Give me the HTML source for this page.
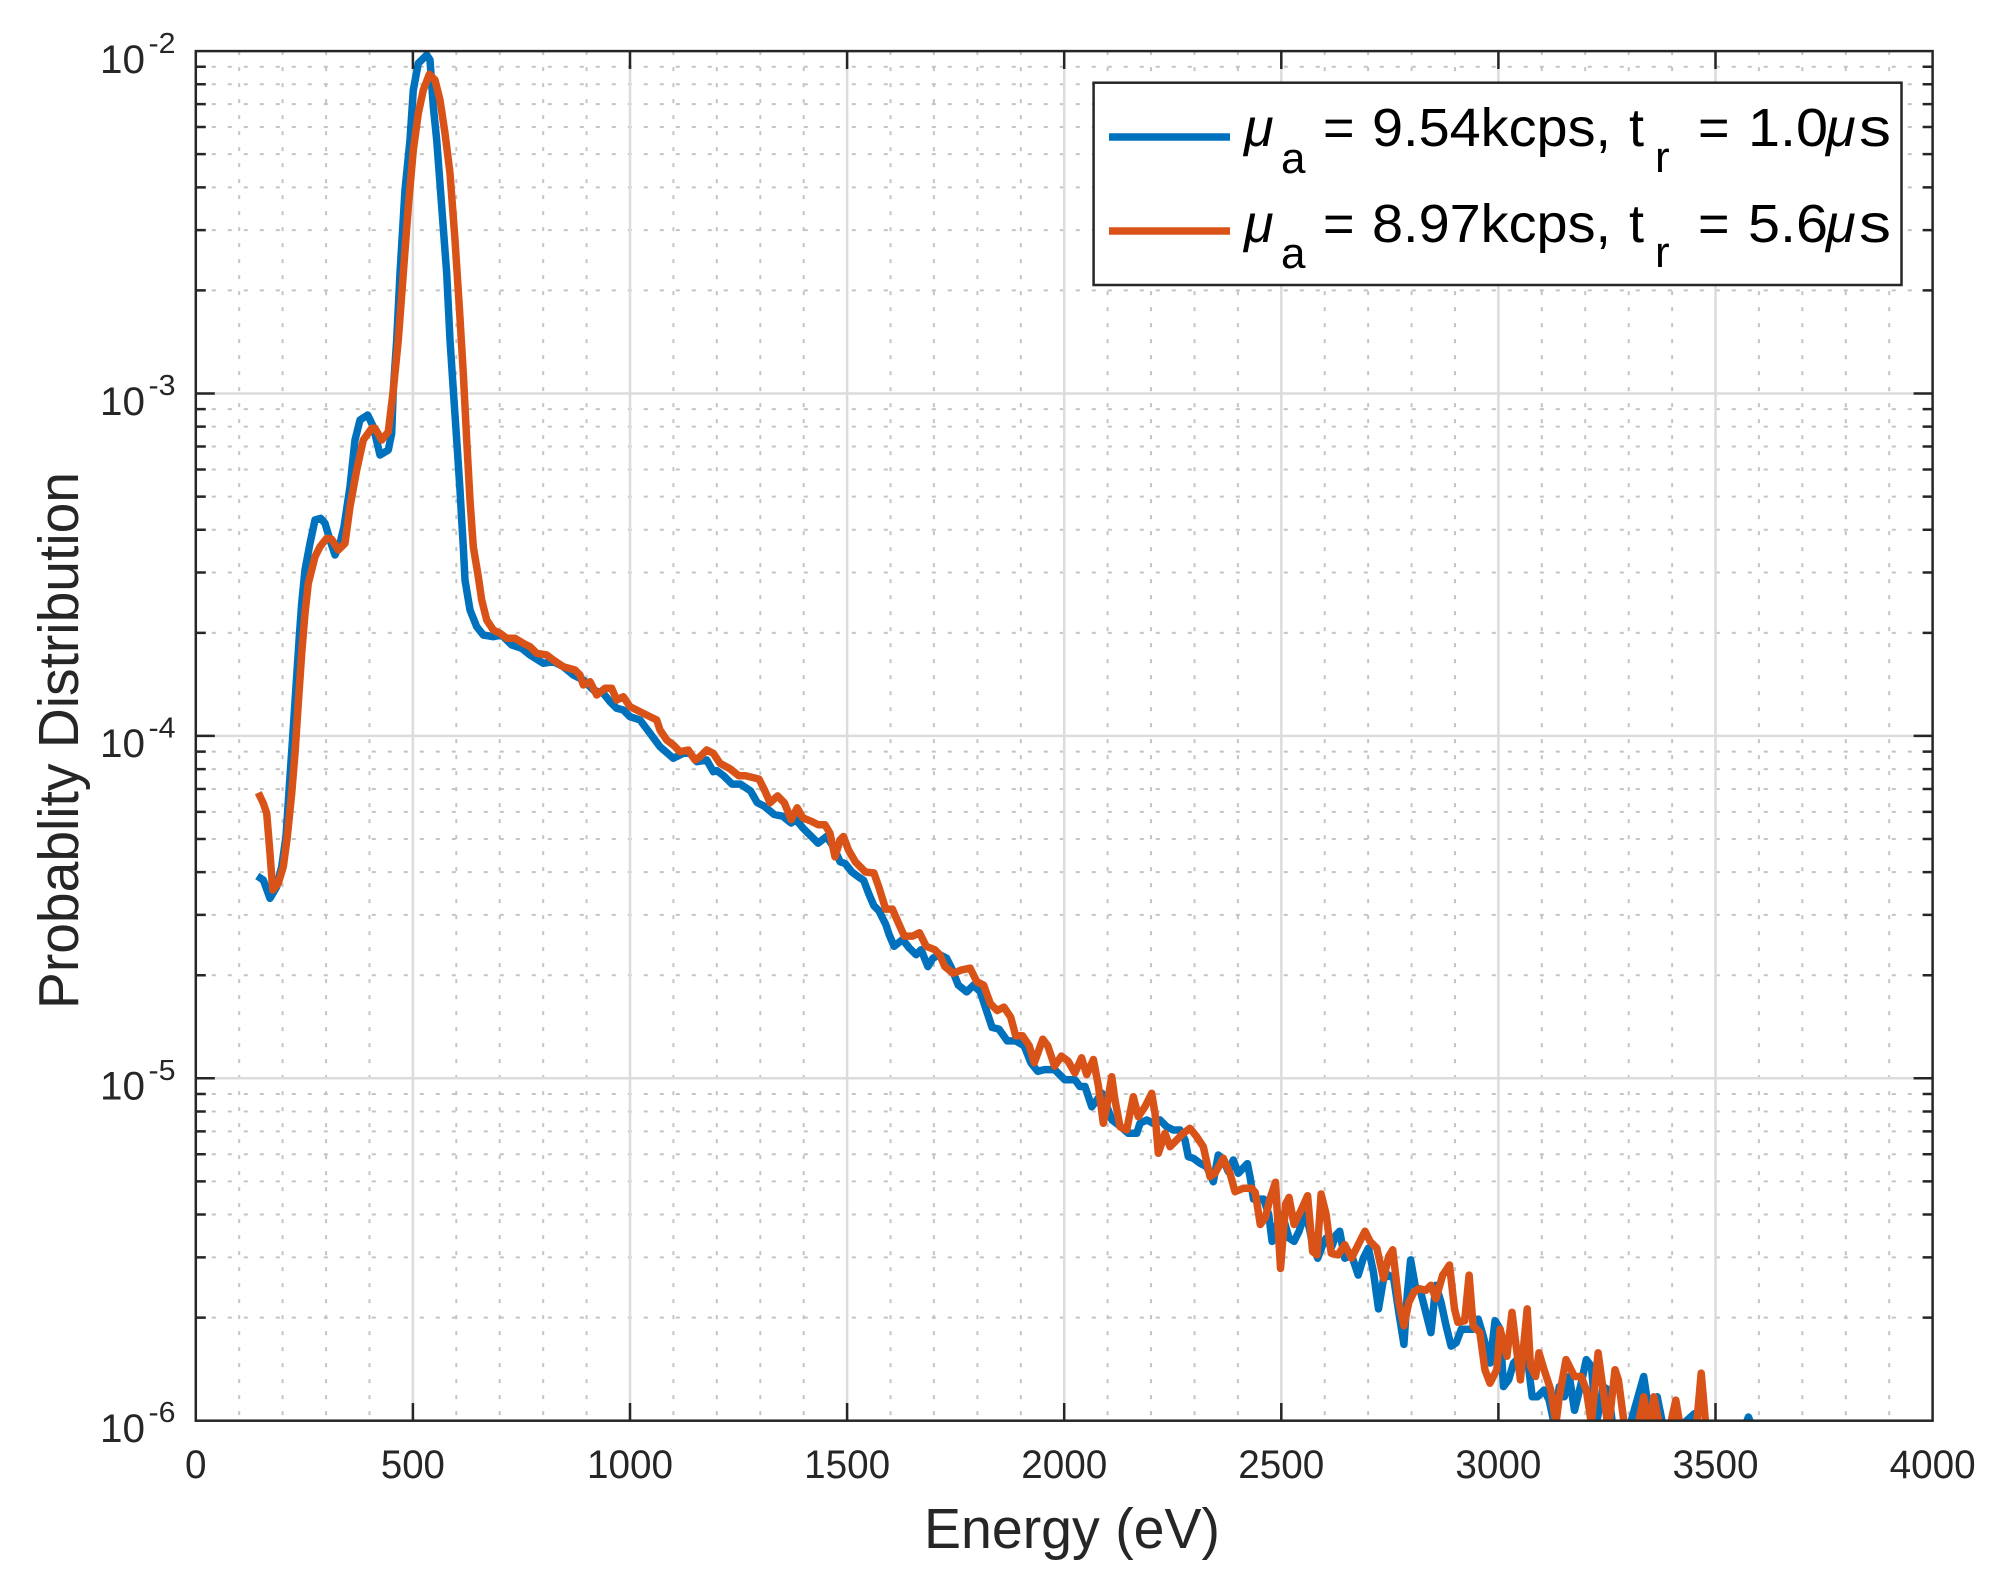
<!DOCTYPE html>
<html><head><meta charset="utf-8"><style>
html,body{margin:0;padding:0;background:#fff;}
svg{display:block;}
text{font-family:"Liberation Sans",Arial,sans-serif;}
</style></head><body>
<svg width="2000" height="1585" viewBox="0 0 2000 1585" xmlns="http://www.w3.org/2000/svg">
<defs><clipPath id="pa"><rect x="195.8" y="51.1" width="1736.8" height="1369.6"/></clipPath></defs>
<rect width="2000" height="1585" fill="#fff"/>
<!-- minor grid -->
<path fill="none" stroke="#c4c4c4" stroke-width="2" stroke-dasharray="4 12" d="
M239.2 51.1V1420.7M282.6 51.1V1420.7M326.1 51.1V1420.7M369.5 51.1V1420.7
M456.3 51.1V1420.7M499.7 51.1V1420.7M543.2 51.1V1420.7M586.6 51.1V1420.7
M673.4 51.1V1420.7M716.8 51.1V1420.7M760.3 51.1V1420.7M803.7 51.1V1420.7
M890.5 51.1V1420.7M933.9 51.1V1420.7M977.4 51.1V1420.7M1020.8 51.1V1420.7
M1107.6 51.1V1420.7M1151 51.1V1420.7M1194.5 51.1V1420.7M1237.9 51.1V1420.7
M1324.7 51.1V1420.7M1368.1 51.1V1420.7M1411.6 51.1V1420.7M1455 51.1V1420.7
M1541.8 51.1V1420.7M1585.2 51.1V1420.7M1628.7 51.1V1420.7M1672.1 51.1V1420.7
M1758.9 51.1V1420.7M1802.3 51.1V1420.7M1845.8 51.1V1420.7M1889.2 51.1V1420.7
M195.8 66.77H1932.6M195.8 84.28H1932.6M195.8 104.14H1932.6M195.8 127.06H1932.6M195.8 154.17H1932.6M195.8 187.35H1932.6M195.8 230.13H1932.6M195.8 290.43H1932.6
M195.8 409.17H1932.6M195.8 426.68H1932.6M195.8 446.54H1932.6M195.8 469.46H1932.6M195.8 496.57H1932.6M195.8 529.75H1932.6M195.8 572.53H1932.6M195.8 632.83H1932.6
M195.8 751.57H1932.6M195.8 769.08H1932.6M195.8 788.94H1932.6M195.8 811.86H1932.6M195.8 838.97H1932.6M195.8 872.15H1932.6M195.8 914.93H1932.6M195.8 975.23H1932.6
M195.8 1093.97H1932.6M195.8 1111.48H1932.6M195.8 1131.34H1932.6M195.8 1154.26H1932.6M195.8 1181.37H1932.6M195.8 1214.55H1932.6M195.8 1257.33H1932.6M195.8 1317.63H1932.6"/>
<!-- major grid -->
<path fill="none" stroke="#dcdcdc" stroke-width="2.5" d="
M412.9 51.1V1420.7M630 51.1V1420.7M847.1 51.1V1420.7M1064.2 51.1V1420.7M1281.3 51.1V1420.7M1498.4 51.1V1420.7M1715.5 51.1V1420.7
M195.8 393.5H1932.6M195.8 735.9H1932.6M195.8 1078.3H1932.6"/>
<!-- data -->
<g clip-path="url(#pa)" fill="none" stroke-width="7.5" stroke-linejoin="round" stroke-linecap="butt">
<polyline stroke="#0072BD" points="257.3,876 263.3,880 270,898.3 276.7,886.7 281.7,866.7 286,836.7 289.3,786.7 292.7,736.7 296,686.7 299.3,636.7 301.7,603.3 305,570 310,543.3 315,520 320.7,518.3 325,523.3 330,540 335,555 340,543.3 344,526.7 350,486.7 355,440 360,420 367.7,415 373.3,426.7 380,455 388.3,450 391.7,433.3 393.3,390 396.7,340 400,273.3 405,190 410,140 413.3,90 418.3,63.3 426.7,55 430,60 433.3,106.7 436.7,140 441.7,206.7 446.7,273.3 450,340 453.3,390 456.7,440 460,490 461.7,520 463.3,546.7 465,580 470,610 476.7,626.7 483.3,635 493.3,636.7 501.7,635 511.7,645 521.7,648.3 530,655 543.3,663.3 553.3,661.7 563.3,666.7 573.3,675 583.3,680 593.3,690 603.3,693.3 610,701.7 616.7,708.3 623.3,710 630,716.7 640,720 650,733.3 660,746.7 673.3,758.3 683.3,753.3 690,753.3 696.7,761.7 706.7,760 713.3,771.7 716.8,770.6 723.5,775.7 732,784.1 740.4,784.1 750.5,790.9 757.3,802.7 764.1,806.1 774.2,814.5 782.6,816.2 791.1,823 796.1,819.6 802.9,828 811.4,836.5 818.1,843.2 826.6,836.5 833.3,846.6 840.1,861.8 845.1,863.5 851.9,872 858.6,877 863.7,880.4 868.8,893.9 873.9,905.7 878.9,910.8 885.7,924.3 889.1,934.5 894.1,946.3 902.6,939.5 909.3,948 916.1,954.7 921.1,949.7 927.9,966.6 933,958.1 939.7,954.7 946.5,958.1 951.6,968.2 958.3,985.1 966.8,991.9 973.5,985.1 980.3,991.9 987,1012.2 992.1,1027.4 998.9,1029.1 1007.3,1040.9 1015.7,1040.9 1024.2,1045.9 1030.9,1062.8 1037.7,1071.3 1044.5,1069.6 1054.6,1069.6 1064.7,1079.7 1074.9,1079.7 1079.9,1086.5 1085,1086.5 1091.8,1106.8 1101.9,1093.2 1107,1106.8 1112,1120 1120,1126 1128.3,1133.3 1136.7,1133.3 1140,1123.3 1146.7,1120 1153.3,1123.3 1160,1120 1166.7,1126.7 1173.3,1130 1180,1130 1185,1140 1188.3,1156.7 1193.3,1158.3 1200,1163.3 1206.7,1166.7 1213.3,1181.7 1218.3,1155 1223.3,1160 1228.3,1171.7 1233.3,1160 1238.3,1173.3 1243.3,1168 1247.4,1163.6 1250.1,1177.2 1253.5,1199.1 1258.6,1199.1 1263.6,1199.1 1268.7,1214.3 1272.1,1241.4 1275.5,1227.8 1278.9,1221.1 1282.2,1214.3 1289,1238 1294.1,1241.4 1299.1,1231.2 1304.2,1214.3 1309.3,1227.8 1312.6,1244.7 1317.7,1258.2 1322.8,1244.7 1326.1,1238 1331.2,1248.1 1336.3,1234.6 1339.7,1231.2 1344.7,1258.2 1351.5,1254.9 1358.2,1275.1 1363.3,1258.2 1368.4,1248.1 1373.4,1271.8 1378.5,1308.9 1383.6,1278.5 1388.6,1275.1 1393.7,1278.5 1398.8,1312.3 1403.9,1344.4 1407.2,1295.4 1410.6,1259.9 1415.7,1288.6 1420.7,1292 1425.8,1312.3 1430.9,1332.6 1435.9,1285.3 1441,1302.2 1446.1,1325.8 1451.1,1346.1 1456.2,1342.7 1461.3,1329.2 1473.1,1329.2 1478.2,1319.1 1483.2,1335.9 1490,1363 1495.1,1320.7 1500.1,1329.2 1503.5,1386.6 1508.6,1379.9 1513.6,1363 1520.4,1356.2 1527.2,1356.2 1532.2,1396.8 1537.3,1396.8 1544.1,1390 1549.1,1400.1 1554.2,1423.8 1559.3,1386.6 1564.3,1396.8 1569.4,1376.5 1574.5,1410.3 1581.2,1383.2 1586.3,1359.6 1591.4,1366.3 1596.4,1423.8 1603.2,1386.6 1608.3,1390 1613.3,1430.5 1628.5,1430.5 1643.7,1376.5 1648.8,1410.3 1657.2,1396.8 1664,1430.5 1675.8,1430.5 1694.4,1413.6 1699.5,1430.5 1743.4,1430.5 1748.4,1417 1753.5,1430.5"/>
<polyline stroke="#D95319" points="258.3,792.7 263.3,803.3 266.7,813.3 270,853.3 272.7,890 278.3,883.3 283.3,866.7 287.3,836.7 291.7,793.3 295,753.3 298.3,703.3 301.7,653.3 305,613.3 308.3,583.3 311.7,570 315,556.7 320,546.7 326.7,538.3 331.7,539.3 338.3,550 345,543.3 350,506.7 356.7,470 363.3,440 371.7,428.3 375,428.3 381.7,440 388.3,431.7 393.3,390 398.3,340 403.3,273.3 408.3,206.7 413.3,150 418.3,113.3 423.3,90 429.3,74.3 435,80 440,100 445,133.3 450,173.3 455,240 459.3,306.7 463.3,373.3 466.7,440 470,500 473.3,546.7 478.3,576.7 481.7,600 486.7,620 493.3,630 500,633.3 506.7,638.3 515,638.3 523.3,643.3 530,646.7 536.7,653.3 546.7,655 553.3,660 563.3,666.7 575,670 580,675 583.3,685 590,681.7 596.7,695 605,688.3 611.7,688.3 616.7,700 623.3,696.7 630,706.7 640,711.7 650,716.7 656.7,720 660,730 666.7,740 673.3,745 680,751.7 688.3,750 695,760 700,756.7 706.7,750 713.3,753.3 720,763.3 730.3,768.9 738.7,775.7 745.5,775.7 752.2,777.4 759,779.1 764.1,789.2 770.1,802.7 777.6,795.9 784.3,802.7 791.1,819.6 797.2,807.8 802.9,817.9 811.4,821.3 818.1,824.7 824.9,824.7 829.9,833.1 835,856.8 840.1,839.9 843.4,836.5 848.5,850 855.3,861.8 865.4,872 873.9,873 878.9,887.2 885.7,909.1 892.4,909.1 897.5,920.9 904.3,936.1 912.7,936.1 919.5,932.8 926.2,946.3 934.7,949.7 939.7,954.7 944.8,966.6 953.2,973.3 961.7,969.9 970.1,968.2 976.9,981.8 983.6,985.1 990.4,1003.7 997.2,1010.5 1003.9,1007.1 1010.7,1017.2 1015.7,1035.8 1022.5,1035.8 1029.3,1045.9 1034.3,1062.8 1042.8,1039.2 1047.8,1045.9 1054.6,1066.2 1061.4,1056.1 1068.1,1061.1 1074.9,1073 1081.6,1057.8 1086.7,1074.7 1093.4,1059.5 1098.5,1086.5 1103.3,1123.3 1106.7,1106.7 1111.7,1076.7 1115,1100 1120,1126.7 1126.7,1130 1133.3,1096.7 1138.3,1116.7 1145,1106.7 1151.7,1093.3 1155,1113.3 1158.3,1153.3 1165,1133.3 1170,1146.7 1176.7,1140 1183.3,1133.3 1190,1128.3 1196.7,1136.7 1203.3,1146.7 1210,1176.7 1215,1173.3 1223.3,1158.3 1230,1173.3 1235,1191.7 1243.3,1188.3 1251.7,1188.3 1255.2,1192.4 1260.3,1224.5 1265.3,1217.7 1270.4,1197.4 1275.5,1182.2 1280.5,1268.4 1285.6,1204.2 1289,1197.4 1294.1,1224.5 1300.8,1210.9 1307.6,1195.7 1312.6,1251.5 1317,1254.9 1321.1,1194 1326.1,1214.3 1331.2,1253.2 1338,1254.9 1344.7,1244.7 1351.5,1258.2 1358.2,1244.7 1365,1231.2 1370.1,1241.4 1376.8,1248.1 1383.6,1278.5 1388.6,1256.6 1392.7,1249.8 1398.8,1302.2 1403.9,1325.8 1408.9,1302.2 1414,1292 1419.1,1288.6 1425.8,1290.3 1430.9,1285.3 1435.9,1298.8 1442.7,1275.1 1449.5,1265 1454.5,1308.9 1457.9,1322.4 1464.7,1320.7 1469.1,1275.1 1473.1,1325.8 1479.9,1332.6 1484.9,1369.7 1490,1383.2 1496.8,1369.7 1500.1,1329.2 1506.9,1356.2 1512,1312.3 1515.3,1339.3 1520.4,1379.9 1527.2,1308.9 1530.5,1366.3 1535.6,1376.5 1539,1352.8 1544.1,1369.7 1550.8,1390 1555.9,1423.8 1559.3,1396.8 1566,1359.6 1574.5,1376.5 1581.2,1376.5 1586.3,1390 1591.4,1423.8 1598.1,1352.8 1603.2,1390 1608.3,1430.5 1615,1369.7 1618.4,1379.9 1625.1,1430.5 1637,1430.5 1643.7,1396.8 1648.8,1430.5 1653.9,1396.8 1660.6,1430.5 1669.1,1430.5 1675.8,1400.1 1680.9,1430.5 1696.1,1430.5 1701.2,1373.1 1706.2,1430.5"/>
</g>
<!-- ticks -->
<path fill="none" stroke="#262626" stroke-width="2.5" d="
M195.8 393.5H214.8M195.8 735.9H214.8M195.8 1078.3H214.8
M1932.6 393.5H1913.6M1932.6 735.9H1913.6M1932.6 1078.3H1913.6
M412.9 51.1V69M630 51.1V69M847.1 51.1V69M1064.2 51.1V69M1281.3 51.1V69M1498.4 51.1V69M1715.5 51.1V69
M412.9 1420.7V1403M630 1420.7V1403M847.1 1420.7V1403M1064.2 1420.7V1403M1281.3 1420.7V1403M1498.4 1420.7V1403M1715.5 1420.7V1403
M195.8 66.77h10M195.8 84.28h10M195.8 104.14h10M195.8 127.06h10M195.8 154.17h10M195.8 187.35h10M195.8 230.13h10M195.8 290.43h10
M195.8 409.17h10M195.8 426.68h10M195.8 446.54h10M195.8 469.46h10M195.8 496.57h10M195.8 529.75h10M195.8 572.53h10M195.8 632.83h10
M195.8 751.57h10M195.8 769.08h10M195.8 788.94h10M195.8 811.86h10M195.8 838.97h10M195.8 872.15h10M195.8 914.93h10M195.8 975.23h10
M195.8 1093.97h10M195.8 1111.48h10M195.8 1131.34h10M195.8 1154.26h10M195.8 1181.37h10M195.8 1214.55h10M195.8 1257.33h10M195.8 1317.63h10
M1932.6 66.77h-10M1932.6 84.28h-10M1932.6 104.14h-10M1932.6 127.06h-10M1932.6 154.17h-10M1932.6 187.35h-10M1932.6 230.13h-10M1932.6 290.43h-10
M1932.6 409.17h-10M1932.6 426.68h-10M1932.6 446.54h-10M1932.6 469.46h-10M1932.6 496.57h-10M1932.6 529.75h-10M1932.6 572.53h-10M1932.6 632.83h-10
M1932.6 751.57h-10M1932.6 769.08h-10M1932.6 788.94h-10M1932.6 811.86h-10M1932.6 838.97h-10M1932.6 872.15h-10M1932.6 914.93h-10M1932.6 975.23h-10
M1932.6 1093.97h-10M1932.6 1111.48h-10M1932.6 1131.34h-10M1932.6 1154.26h-10M1932.6 1181.37h-10M1932.6 1214.55h-10M1932.6 1257.33h-10M1932.6 1317.63h-10"/>
<rect x="195.8" y="51.1" width="1736.8" height="1369.6" fill="none" stroke="#262626" stroke-width="2.5"/>
<!-- y tick labels -->
<g fill="#262626">
<text x="100" y="73" font-size="40" textLength="45" lengthAdjust="spacingAndGlyphs">10</text>
<text x="148.5" y="53" font-size="29" textLength="27" lengthAdjust="spacingAndGlyphs">-2</text>
<text x="100" y="415" font-size="40" textLength="45" lengthAdjust="spacingAndGlyphs">10</text>
<text x="148.5" y="395" font-size="29" textLength="27" lengthAdjust="spacingAndGlyphs">-3</text>
<text x="100" y="757" font-size="40" textLength="45" lengthAdjust="spacingAndGlyphs">10</text>
<text x="148.5" y="737.5" font-size="29" textLength="27" lengthAdjust="spacingAndGlyphs">-4</text>
<text x="100" y="1099.5" font-size="40" textLength="45" lengthAdjust="spacingAndGlyphs">10</text>
<text x="148.5" y="1080" font-size="29" textLength="27" lengthAdjust="spacingAndGlyphs">-5</text>
<text x="100" y="1442" font-size="40" textLength="45" lengthAdjust="spacingAndGlyphs">10</text>
<text x="148.5" y="1422" font-size="29" textLength="27" lengthAdjust="spacingAndGlyphs">-6</text>
</g>
<!-- x tick labels -->
<g fill="#262626" font-size="40" text-anchor="middle">
<text x="195.8" y="1478" textLength="21.5" lengthAdjust="spacingAndGlyphs">0</text>
<text x="412.9" y="1478" textLength="64" lengthAdjust="spacingAndGlyphs">500</text>
<text x="630" y="1478" textLength="86" lengthAdjust="spacingAndGlyphs">1000</text>
<text x="847.1" y="1478" textLength="86" lengthAdjust="spacingAndGlyphs">1500</text>
<text x="1064.2" y="1478" textLength="86" lengthAdjust="spacingAndGlyphs">2000</text>
<text x="1281.3" y="1478" textLength="86" lengthAdjust="spacingAndGlyphs">2500</text>
<text x="1498.4" y="1478" textLength="86" lengthAdjust="spacingAndGlyphs">3000</text>
<text x="1715.5" y="1478" textLength="86" lengthAdjust="spacingAndGlyphs">3500</text>
<text x="1932.6" y="1478" textLength="86" lengthAdjust="spacingAndGlyphs">4000</text>
</g>
<!-- axis labels -->
<text x="924" y="1548" font-size="57" fill="#262626" textLength="296" lengthAdjust="spacingAndGlyphs">Energy (eV)</text>
<text transform="translate(78,1009) rotate(-90)" x="0" y="0" font-size="57" fill="#262626" textLength="537" lengthAdjust="spacingAndGlyphs">Probablity Distribution</text>
<!-- legend -->
<rect x="1093.6" y="82.7" width="807.9" height="202.3" fill="#fff" stroke="#262626" stroke-width="2.5"/>
<line x1="1109" y1="137" x2="1230" y2="137" stroke="#0072BD" stroke-width="7.5"/>
<line x1="1109" y1="231" x2="1230" y2="231" stroke="#D95319" stroke-width="7.5"/>
<g fill="#000">
<text x="1244" y="146" font-size="54" font-style="italic">μ</text>
<text x="1281" y="173" font-size="44">a</text>
<text x="1323" y="146" font-size="54">=</text>
<text x="1372" y="146" font-size="54" textLength="239" lengthAdjust="spacingAndGlyphs">9.54kcps,</text>
<text x="1629" y="146" font-size="54">t</text>
<text x="1655" y="172" font-size="44">r</text>
<text x="1698" y="146" font-size="54">=</text>
<text x="1748" y="146" font-size="54" textLength="80" lengthAdjust="spacingAndGlyphs">1.0</text>
<text x="1826" y="146" font-size="54" font-style="italic">μ</text>
<text x="1859" y="146" font-size="54" textLength="32" lengthAdjust="spacingAndGlyphs">s</text>

<text x="1244" y="242" font-size="54" font-style="italic">μ</text>
<text x="1281" y="268" font-size="44">a</text>
<text x="1323" y="242" font-size="54">=</text>
<text x="1372" y="242" font-size="54" textLength="239" lengthAdjust="spacingAndGlyphs">8.97kcps,</text>
<text x="1629" y="242" font-size="54">t</text>
<text x="1655" y="267" font-size="44">r</text>
<text x="1698" y="242" font-size="54">=</text>
<text x="1748" y="242" font-size="54" textLength="80" lengthAdjust="spacingAndGlyphs">5.6</text>
<text x="1826" y="242" font-size="54" font-style="italic">μ</text>
<text x="1859" y="242" font-size="54" textLength="32" lengthAdjust="spacingAndGlyphs">s</text>
</g>
</svg>
</body></html>
